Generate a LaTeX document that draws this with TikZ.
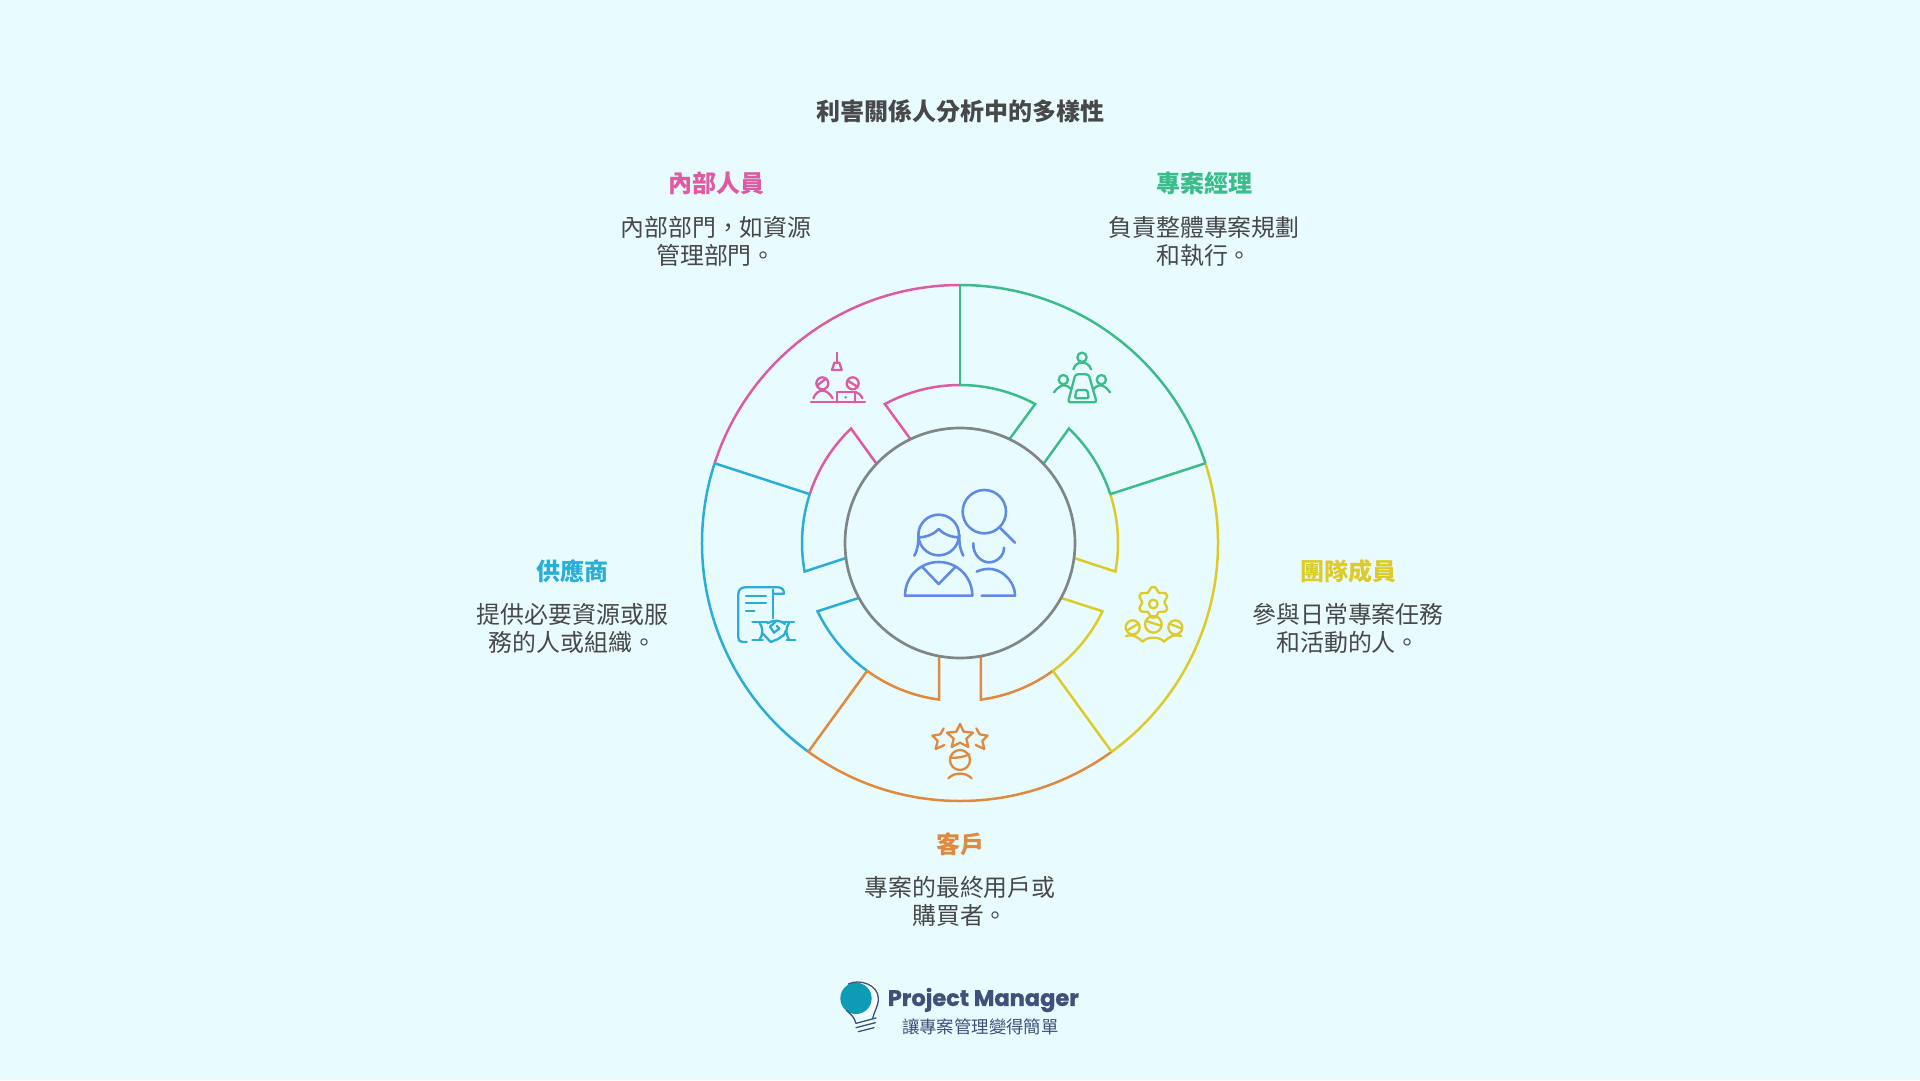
\documentclass[tikz,border=0pt]{standalone}
\usepackage{fontspec}
\setmainfont{Noto Sans CJK TC}
\newfontfamily\logofont[BoldFeatures={FakeBold=1.2}]{Poppins}
\definecolor{bgc}{HTML}{E8FCFF}
\definecolor{pinkc}{HTML}{DE5BA3}
\definecolor{greenc}{HTML}{3CBB8B}
\definecolor{yellowc}{HTML}{DDCB2B}
\definecolor{orangec}{HTML}{DF8A3E}
\definecolor{bluec}{HTML}{2BADD6}
\definecolor{grayc}{HTML}{808585}
\definecolor{iconc}{HTML}{5F8BE0}
\definecolor{textc}{HTML}{484848}
\definecolor{logoc}{HTML}{3F5178}
\definecolor{tealc}{HTML}{0E9BB5}
\tikzset{
  ring/.style={line width=2.5pt,line join=miter,line cap=butt},
  ic/.style={line width=2.3pt,line cap=round,line join=round},
  zf/.style 2 args={shift={(#1,#2)},x=0.33333pt,y=-0.33333pt},
  heading/.style={font=\fontsize{24}{28}\selectfont\bfseries,anchor=center},
  body/.style={font=\fontsize{23.9}{28.2}\selectfont,align=center,anchor=center,text=textc},
}
\newcommand{\ringsector}[5]{%
  \pgfmathsetmacro\ga{#3+7.59}\pgfmathsetmacro\gb{#3+10.52}%
  \pgfmathsetmacro\gc{#3-10.52}\pgfmathsetmacro\gd{#3-7.59}%
  \draw[ring,#1] (#2:258pt) arc[start angle=#2,end angle=#4,radius=258pt];
  \draw[ring,#1] (#2:158pt) arc[start angle=#2,end angle=\ga,radius=158pt] -- (\gb:115pt);
  \draw[ring,#1] (\gc:115pt) -- (\gd:158pt) arc[start angle=\gd,end angle=#4,radius=158pt];
  \draw[ring,#5] (#4:158pt) -- (#4:258pt);
}
\begin{document}
\begin{tikzpicture}[x=1pt,y=-1pt]
\useasboundingbox[fill=bgc] (0,0) rectangle (1920,1080);

\node[heading,text=textc] (title) at (960,111) {利害關係人分析中的多樣性};

\node[heading,text=pinkc] (h1) at (716,183.5) {內部人員};
\node[body] (b1) at (716,241.5) {內部部門，如資源\\管理部門。};
\node[heading,text=greenc] (h2) at (1204,183.5) {專案經理};
\node[body] (b2) at (1204,241.5) {負責整體專案規劃\\和執行。};
\node[heading,text=yellowc] (h3) at (1348,571) {團隊成員};
\node[body] (b3) at (1348,628.5) {參與日常專案任務\\和活動的人。};
\node[heading,text=bluec] (h4) at (572.5,571) {供應商};
\node[body] (b4) at (572.5,628.5) {提供必要資源或服\\務的人或組織。};
\node[heading,text=orangec] (h5) at (960,844) {客戶};
\node[body] (b5) at (960,901.5) {專案的最終用戶或\\購買者。};

\begin{scope}[shift={(960,543)},x=1pt,y=1pt]
  \ringsector{pinkc}{-198}{-234}{-270}{greenc}
  \ringsector{bluec}{-126}{-162}{-198}{bluec}
  \ringsector{orangec}{-54}{-90}{-126}{orangec}
  \ringsector{yellowc}{18}{-18}{-54}{yellowc}
  \ringsector{greenc}{90}{54}{18}{greenc}
  \draw[line width=2.7pt,grayc] (0,0) circle[radius=115pt];
\end{scope}

% centre icon
\begin{scope}[zf={880}{480},ic,iconc,line width=2.6pt]
  \draw (313,95) circle[radius=65];
  \draw (362,145) -- (405,188);
  \draw (176,165) circle[radius=61];
  \draw (117,172) .. controls (140,172) and (165,160) .. (176,147) .. controls (187,160) and (212,172) .. (236,172);
  \draw (115,165) .. controls (116,190) and (112,212) .. (103,227);
  \draw (238,165) .. controls (237,190) and (241,212) .. (250,227);
  \draw (75,347) .. controls (75,291) and (120,246) .. (176,246) .. controls (232,246) and (277,291) .. (277,347) -- cycle;
  \draw (128,262) -- (176,312) -- (225,262);
  \draw (280,190) .. controls (278,225) and (305,247) .. (327,247) .. controls (350,247) and (372,228) .. (372,203);
  \draw (290,275) .. controls (310,265) and (340,262) .. (365,278) .. controls (390,295) and (405,320) .. (405,347) -- (305,347);
\end{scope}

% pink icon and green icon
\begin{scope}[zf={800}{340},ic,pinkc]
  \draw (110,38) -- (110,68);
  \draw (103,68) -- (118,68) -- (125,90) -- (96,90) -- cycle;
  \draw (67,130) circle[radius=18];
  \draw (52,136) -- (78,116);
  \draw (158,130) circle[radius=18];
  \draw (143,122) -- (172,140);
  \draw (40,175) .. controls (46,158) and (58,152) .. (67,152) .. controls (78,152) and (90,160) .. (98,175);
  \draw (165,155) .. controls (175,158) and (183,165) .. (187,175);
  \draw (33,187) -- (195,187);
  \draw (112,187) -- (112,155) -- (165,155) -- (165,187);
  \fill (137,172) circle[radius=4];
\end{scope}
\begin{scope}[zf={800}{340},ic,greenc]
  \draw (846,52) circle[radius=14];
  \draw (820,88) .. controls (825,72) and (836,68) .. (846,68) .. controls (856,68) and (868,72) .. (873,88);
  \draw (790,119) circle[radius=14];
  \draw (904,119) circle[radius=14];
  \draw (762,157) .. controls (772,142) and (785,135) .. (795,136) .. controls (803,137) and (808,142) .. (813,148);
  \draw (930,157) .. controls (920,142) and (908,135) .. (898,136) .. controls (890,137) and (885,142) .. (880,148);
  \draw[rounded corners=2.5pt] (826,103) -- (866,103) -- (890,187) -- (804,187) -- cycle;
  \draw[rounded corners=1.5pt] (829,150) -- (862,150) -- (866,175) -- (825,175) -- cycle;
\end{scope}

% supplier icon
\begin{scope}[zf={720}{570},ic,bluec]
  \draw (80,216) -- (68,216) .. controls (60,216) and (55,211) .. (55,203) -- (55,72) .. controls (55,60) and (63,52) .. (75,52) -- (175,52) .. controls (186,52) and (192,60) .. (192,71) -- (162,71);
  \draw (160,58) -- (160,145);
  \draw (78,78) -- (138,78);
  \draw (78,100) -- (138,100);
  \draw (78,123) -- (103,123);
  \draw (97,157) -- (142,157);
  \draw (97,210) -- (128,210);
  \draw (118,157) .. controls (130,175) and (130,192) .. (118,210);
  \draw (185,157) -- (222,157);
  \draw (200,210) -- (226,210);
  \draw (208,157) .. controls (196,175) and (196,192) .. (208,210);
  \draw (128,190) -- (152,216) -- (172,208) -- (192,195) -- (198,182);
  \draw (142,160) .. controls (150,155) and (160,152) .. (170,152) .. controls (180,152) and (188,157) .. (195,162);
  \draw (170,152) -- (150,170) -- (162,188) -- (178,176) -- (170,168);
\end{scope}

% team icon
\begin{scope}[zf={1110}{575},ic,yellowc]
  \draw plot[smooth cycle,variable=\t,samples at={0,12,...,348}] ({130+(40+7*cos(6*(\t-90)))*cos(\t)},{82-(40+7*cos(6*(\t-90)))*sin(\t)});
  \draw (130,87) circle[radius=13];
  \draw (130,148) circle[radius=25];
  \draw (108,138) -- (153,152);
  \draw (68,157) circle[radius=21];
  \draw (52,166) -- (85,146);
  \draw (196,157) circle[radius=21];
  \draw (178,146) -- (214,160);
  \draw (48,183) .. controls (70,176) and (85,188) .. (98,200) .. controls (110,184) and (150,184) .. (162,200) .. controls (175,188) and (190,176) .. (214,183);
\end{scope}

% customer icon
\begin{scope}[zf={915}{715},ic,orangec]
  \draw (135,27) -- (146,50) -- (174,53) -- (154,71) -- (160,96) -- (135,83) -- (110,96) -- (116,71) -- (96,53) -- (124,50) -- cycle;
  \draw (86,40) -- (76,58) -- (52,62) -- (68,78) -- (62,102) -- (88,90);
  \draw (184,40) -- (194,58) -- (218,62) -- (202,78) -- (208,102) -- (182,90);
  \draw (135,135) circle[radius=30];
  \draw (105,128) .. controls (125,130) and (150,125) .. (163,118);
  \draw (100,190) .. controls (112,178) and (124,176) .. (135,176) .. controls (146,176) and (158,178) .. (170,190);
\end{scope}

% logo
\begin{scope}[zf={780}{960}]
  \fill[white!60!bgc] (240,115) circle[radius=55];
  \fill[tealc] (228,115) circle[radius=47];
  \draw[line width=1.3pt,logoc,line cap=round] (205,72) .. controls (240,55) and (295,75) .. (295,115) .. controls (295,140) and (282,155) .. (278,175);
  \draw[line width=1.3pt,logoc,line cap=round] (200,152) .. controls (212,162) and (222,170) .. (228,190);
  \draw[line width=1.3pt,logoc,line cap=round] (228,190) -- (288,174);
  \draw[line width=1.3pt,logoc,line cap=round] (228,203) -- (286,188);
  \draw[line width=1.3pt,logoc,line cap=round] (235,215) -- (282,203);
  \node[inner sep=0pt,anchor=center,text=logoc,font=\logofont\fontsize{22.5}{26}\selectfont\bfseries] (lg1) at (610,120) {Project Manager};
  \node[inner sep=0pt,anchor=center,text=logoc,font=\fontsize{17.4}{20}\selectfont] (lg2) at (601,200) {讓專案管理變得簡單};
\end{scope}
\end{tikzpicture}
\end{document}
